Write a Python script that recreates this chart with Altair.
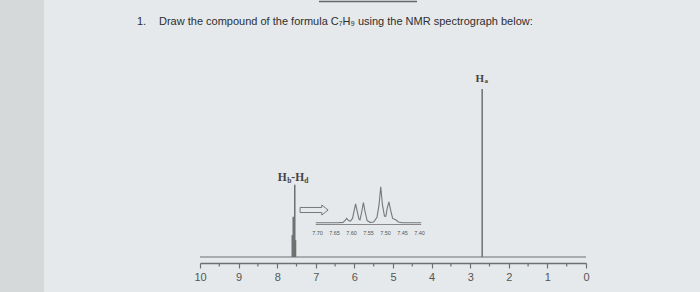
import altair as alt
import pandas as pd

# ---------------- data ----------------
axis_ticks = [0, 1, 2, 3, 4, 5, 6, 7, 8, 9, 10]
minor_ticks = [0.5, 1.5, 2.5, 3.5, 4.5, 5.5, 6.5, 7.5, 8.5, 9.5]
baseline_ppm = [10, 0]

# main spectrum peaks (ppm, relative intensity, methyl = 1)
peak_ppm = [7.61, 7.585, 7.545, 7.525, 2.69]
peak_int = [0.13, 0.24, 0.43, 0.10, 1.0]

# inset (expanded aromatic region) trace, read point by point
inset_ppm = [7.705, 7.64, 7.625, 7.618, 7.614, 7.610, 7.604, 7.597, 7.592, 7.588,
             7.584, 7.578, 7.575, 7.570, 7.565, 7.560, 7.554, 7.545, 7.535, 7.525,
             7.519, 7.514, 7.509, 7.503, 7.499, 7.495, 7.490, 7.485, 7.479, 7.470,
             7.462, 7.450, 7.395]
inset_int = [0.0, 0.0, 0.01, 0.07, 0.12, 0.07, 0.04, 0.12, 0.35, 0.52,
             0.35, 0.10, 0.08, 0.30, 0.56, 0.30, 0.06, 0.01, 0.02, 0.15,
             0.50, 1.00, 0.50, 0.18, 0.18, 0.40, 0.58, 0.35, 0.12, 0.08,
             0.02, 0.0, 0.0]
inset_ticks = [7.70, 7.65, 7.60, 7.55, 7.50, 7.45, 7.40]
inset_range = [7.705, 7.395]

title_num = "1."
title_text = "Draw the compound of the formula C\u2087H\u2089 using the NMR spectrograph below:"

# ---------------- scales / encodings ----------------
LINE = "#6f6f6f"
XS = alt.Scale(domain=[10, 0], nice=False, zero=False)
YS = alt.Scale(domain=[-0.0357, 1.5298], nice=False, zero=False)
AX = alt.Axis(values=axis_ticks, title=None, grid=False, tickSize=5, tickWidth=1.2,
              tickColor=LINE, domainColor=LINE, domainWidth=1.5, labelColor="#555",
              labelFont="Liberation Sans", labelFontSize=11, labelPadding=3,
              labelFlush=False, labelOverlap=False, format="d")
X_MAIN = alt.X("ppm:Q", scale=XS, axis=AX)
Y_MAIN = alt.Y("v:Q", scale=YS, axis=None)

IXS = alt.Scale(domain=[8.0456, 6.9103], nice=False, zero=False)
IYS = alt.Scale(domain=[-1.119, 6.186], nice=False, zero=False)
X_IN = alt.X("ppm:Q", scale=IXS, axis=None)
Y_IN = alt.Y("v:Q", scale=IYS, axis=None)

# ---------------- background decorations ----------------
strip = alt.Chart(pd.DataFrame({"a": [0]})).mark_rect(color="#d5d9da").encode(
    x=alt.value(-200), x2=alt.value(-156), y=alt.value(0), y2=alt.value(292))
underline = alt.Chart(pd.DataFrame({"a": [0]})).mark_rule(color="#666", strokeWidth=1.5).encode(
    x=alt.value(119), x2=alt.value(217), y=alt.value(1.5))

title1 = alt.Chart(pd.DataFrame({"t": [title_num]})).mark_text(
    align="left", baseline="middle", font="Liberation Sans", fontSize=11, color="#2e2e2e"
).encode(x=alt.value(-63), y=alt.value(21.5), text="t:N")
title2 = alt.Chart(pd.DataFrame({"t": [title_text]})).mark_text(
    align="left", baseline="middle", font="Liberation Sans", fontSize=11, color="#2e2e2e"
).encode(x=alt.value(-41), y=alt.value(21.5), text="t:N")

# ---------------- main spectrum ----------------
base_df = pd.DataFrame({"ppm": [baseline_ppm[0]], "ppm2": [baseline_ppm[1]], "v": [0.0]})
baseline = alt.Chart(base_df).mark_rule(color=LINE, strokeWidth=1.2).encode(
    x=X_MAIN, x2="ppm2:Q", y=Y_MAIN)

peaks_df = pd.DataFrame({"ppm": peak_ppm, "v": [0.0] * len(peak_ppm), "v2": peak_int})
peaks = alt.Chart(peaks_df).mark_rule(color=LINE, strokeWidth=1.5).encode(
    x=X_MAIN, y=Y_MAIN, y2="v2:Q")

minor_df = pd.DataFrame({"ppm": minor_ticks})
minor = alt.Chart(minor_df).mark_rule(color=LINE, strokeWidth=1.2).encode(
    x=X_MAIN, y=alt.value(263), y2=alt.value(266.5))


def lab(txt, ppm, v, dx, dy, size):
    df = pd.DataFrame({"ppm": [ppm], "v": [v], "t": [txt]})
    return alt.Chart(df).mark_text(font="Liberation Serif", fontWeight="bold", fontSize=size,
                                   color="#444", dx=dx, dy=dy, baseline="middle").encode(
        x=X_MAIN, y=Y_MAIN, text="t:N")


labels = [
    lab("H", 2.69, 1.06, -2.5, 0, 11),
    lab("a", 2.69, 1.06, 4, 2.5, 7),
    lab("H", 7.545, 0.47, -12.5, 0, 11.5),
    lab("b", 7.545, 0.47, -5.5, 2.5, 7.5),
    lab("-", 7.545, 0.47, -1.5, 0, 11.5),
    lab("H", 7.545, 0.47, 5, 0, 11.5),
    lab("d", 7.545, 0.47, 11.5, 2.5, 7.5),
]

main = alt.layer(strip, underline, title1, title2, baseline, peaks, minor, *labels)

# ---------------- inset ----------------
curve_df = pd.DataFrame({"ppm": inset_ppm, "v": inset_int})
curve = alt.Chart(curve_df).mark_line(color="#777", strokeWidth=1.1).encode(
    x=alt.X("ppm:Q", scale=IXS, axis=None, sort=None), y=Y_IN, order=alt.Order("ppm:Q", sort="descending"))

iax_df = pd.DataFrame({"ppm": [inset_range[0]], "ppm2": [inset_range[1]]})
iaxis = alt.Chart(iax_df).mark_rule(color="#888", strokeWidth=1).encode(
    x=X_IN, x2="ppm2:Q", y=alt.value(224.5))

itick_df = pd.DataFrame({"ppm": inset_ticks})
itext = alt.Chart(itick_df).mark_text(font="Liberation Sans", fontSize=5.5, color="#555",
                                      baseline="middle").encode(
    x=X_IN, y=alt.value(233), text=alt.Text("ppm:Q", format=".2f"))

arrow_df = pd.DataFrame({"ppm": [7.71], "v": [0.353]})
arrow = alt.Chart(arrow_df).mark_point(
    shape="M -1 -0.18 L 0.55 -0.18 L 0.55 -0.36 L 1 0 L 0.55 0.36 L 0.55 0.18 L -1 0.18 Z",
    size=784, filled=False, stroke="#777", strokeWidth=1, opacity=1
).encode(x=X_IN, y=Y_IN)

inset = alt.layer(curve, iaxis, itext, arrow)

chart = alt.layer(main, inset).resolve_scale(x="independent", y="independent").properties(
    width=386, height=263,
    padding={"left": 200, "top": 0, "right": 114, "bottom": 29},
    autosize="none", background="#e5e9eb"
).configure_view(stroke=None)

chart.save("out.html", embed_options={"renderer": "svg", "actions": False})
